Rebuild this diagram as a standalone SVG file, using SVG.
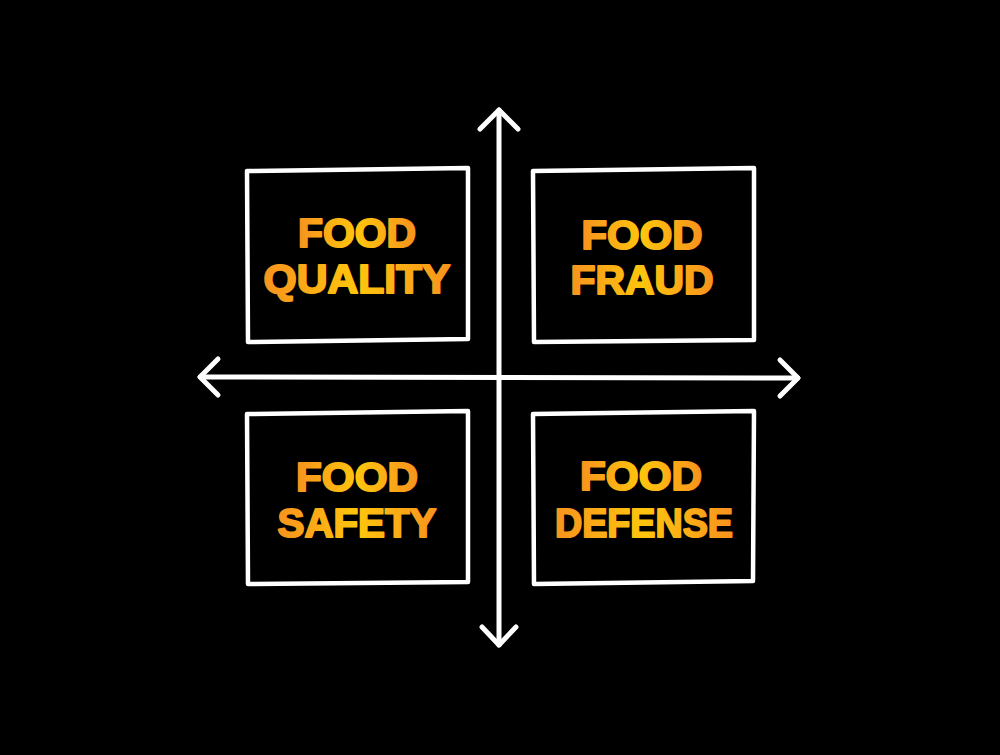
<svg xmlns="http://www.w3.org/2000/svg" width="1000" height="755" viewBox="0 0 1000 755">
<defs>
<linearGradient id="g" x1="0" y1="0" x2="1" y2="0">
<stop offset="0" stop-color="#f7931e"/>
<stop offset="0.5" stop-color="#ffc50d"/>
<stop offset="1" stop-color="#f7931e"/>
</linearGradient>
<style>
.box{fill:#000;stroke:#fff;stroke-width:4.5;stroke-linejoin:round}
.ax{fill:none;stroke:#fff;stroke-width:5;stroke-linecap:round;stroke-linejoin:round}
.t{font-family:"Liberation Sans",Arial,sans-serif;font-weight:bold;font-size:40px;fill:url(#g);stroke:url(#g);stroke-width:2;stroke-linejoin:round;text-anchor:middle}
</style>
</defs>
<rect width="1000" height="755" fill="#000"/>
<g id="connectors">
<path class="ax" d="M499,110 L499,645"/>
<path class="ax" d="M480,129 L499,110 L518,129"/>
<path class="ax" d="M482,627 L499,645 L516,627"/>
<path class="ax" d="M200,377 L798,378"/>
<path class="ax" d="M218,359 L200,377 L218,395"/>
<path class="ax" d="M780,360 L798,378 L780,396"/>
</g>
<g id="food-quality">
<path class="box" d="M247,171 L468,168 L468,339 L248,342 Z"/>
<text class="t" x="357" y="247" textLength="118" lengthAdjust="spacingAndGlyphs">FOOD</text>
<text class="t" x="357" y="293" textLength="187" lengthAdjust="spacingAndGlyphs">QUALITY</text>
</g>
<g id="food-fraud">
<path class="box" d="M533,171 L754,168 L754,340 L534,342 Z"/>
<text class="t" x="642" y="249" textLength="121" lengthAdjust="spacingAndGlyphs">FOOD</text>
<text class="t" x="642" y="294" textLength="143" lengthAdjust="spacingAndGlyphs">FRAUD</text>
</g>
<g id="food-safety">
<path class="box" d="M247,414 L468,411 L468,582 L248,584 Z"/>
<text class="t" x="357" y="491" textLength="122" lengthAdjust="spacingAndGlyphs">FOOD</text>
<text class="t" x="357" y="537" textLength="159" lengthAdjust="spacingAndGlyphs">SAFETY</text>
</g>
<g id="food-defense">
<path class="box" d="M533,414 L754,411 L753,581 L534,584 Z"/>
<text class="t" x="641" y="490" textLength="122" lengthAdjust="spacingAndGlyphs">FOOD</text>
<text class="t" x="644" y="537" textLength="178" lengthAdjust="spacingAndGlyphs">DEFENSE</text>
</g>
</svg>
